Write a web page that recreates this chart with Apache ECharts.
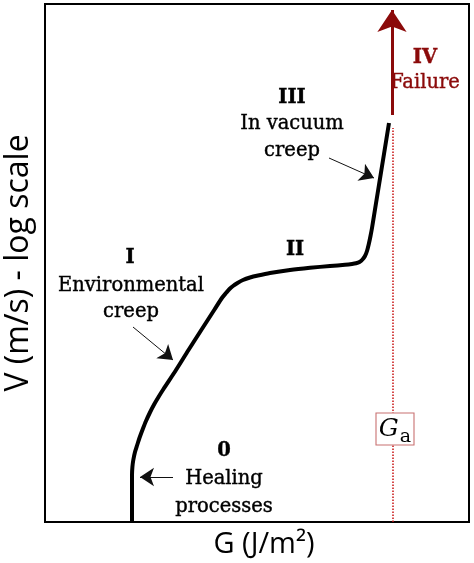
<!DOCTYPE html>
<html><head><meta charset="utf-8">
<script src="https://cdn.jsdelivr.net/npm/echarts@6/dist/echarts.min.js"></script>
<style>html,body{margin:0;padding:0;background:#fff}#c{width:474px;height:563px}</style>
</head><body><div id="c"></div>
<script>
// Curve: G (arbitrary units) vs log V (arbitrary units)
const curveG = [87,87,87.4,88.3,90,92.2,94.8,97.8,101,104.7,108.8,113.5,118.5,131,143.5,156.3,169.2,176.9,181,184.5,188,192.5,198,205,213,225,245,265,285,300,307,311,314.5,317.5,320,322,323.8,325.5,327,331,335,339,344];
const curveV = [0,47,55,62,70,77,85,93,101,109,117,125,133,152,172,192,212,224,229,233,236,239,242,244.5,246.5,249,252,254.2,256,257.2,258,258.7,260,262.5,266,271,278,286,294,318.7,343.4,368,399];
// Critical G line (Ga) and failure arrow
const gaG = 348;
const gaVrange = [0, 394];
const failArrowG = 347;
const failArrowV = [407, 512];
const gaBox = [350, 93];
// Text annotations
const labelTexts = ['IV','Failure','III','In vacuum','creep','II','I','Environmental','creep','0','Healing','processes'];
const labelG =     [380, 380, 247, 247, 247, 250, 85, 86, 86, 179, 179, 179];
const labelV =     [464, 439, 424, 398, 371, 272, 264, 236, 210, 71, 43, 15];
const labelBold =  [true,false,true,false,false,true,true,false,false,true,false,false];
const labelRed =   [true,true,false,false,false,false,false,false,false,false,false,false];
// Pointer arrows [G1,V1,G2,V2]
const pointerArrows = [
  [128, 45, 95, 45],
  [88, 195, 128, 162],
  [284, 364, 329, 344]
];

const red = '#8b0a0a';
const serif = 'DejaVu Serif';
const chart = echarts.init(document.getElementById('c'));
chart.setOption({
  animation: false,
  grid: {left: 45, right: 5, top: 4, bottom: 41, outerBoundsMode: 'none', containLabel: false,
    show: true, borderColor: '#000', borderWidth: 2, backgroundColor: 'transparent'},
  xAxis: {type: 'value', min: 0, max: 424, name: 'G (J/m²)', nameLocation: 'middle', nameGap: 8,
    nameTextStyle: {fontFamily: 'Open Sans', fontSize: 29, color: '#000', padding: [0, 0, 0, 14]},
    axisLine: {show: false}, axisTick: {show: false}, axisLabel: {show: false}, splitLine: {show: false}},
  yAxis: {type: 'value', min: 0, max: 518, name: 'V (m/s) - log scale', nameLocation: 'middle', nameGap: 10,
    nameTextStyle: {fontFamily: 'Open Sans', fontSize: 32, color: '#000'},
    axisLine: {show: false}, axisTick: {show: false}, axisLabel: {show: false}, splitLine: {show: false}},
  series: [
    {type: 'line', data: [[gaG, gaVrange[0]], [gaG, gaVrange[1]]], symbol: 'none',
     lineStyle: {color: '#c81010', width: 1.5, type: [1.5, 1.5]}, z: 1},
    {type: 'line', data: curveG.map((g, i) => [g, curveV[i]]), symbol: 'none', smooth: 0.25,
     lineStyle: {color: '#000', width: 4, join: 'round'}, z: 3},
    {type: 'lines', coordinateSystem: 'cartesian2d', symbol: ['none', 'arrow'], symbolSize: [14, 22],
     lineStyle: {color: red, width: 3, opacity: 1}, z: 4,
     data: [{coords: [[failArrowG, failArrowV[0]], [failArrowG, failArrowV[1]]]}]},
    {type: 'lines', coordinateSystem: 'cartesian2d', symbol: ['none', 'arrow'], symbolSize: [10, 14],
     lineStyle: {color: '#111', width: 1, opacity: 1}, z: 4,
     data: pointerArrows.map(a => ({coords: [[a[0], a[1]], [a[2], a[3]]]}))},
    {type: 'scatter', symbol: 'rect', symbolSize: [38, 32], z: 5,
     itemStyle: {color: '#fff', borderColor: '#c87070', borderWidth: 1, opacity: 1},
     data: [{value: gaBox}],
     label: {show: true, position: 'inside', formatter: '{g|G}{a|a}',
       rich: {g: {fontFamily: serif, fontStyle: 'italic', fontSize: 25, color: '#000'},
              a: {fontFamily: serif, fontSize: 19, color: '#000', padding: [16, 0, 0, 1]}}}},
    {type: 'scatter', symbolSize: 0, z: 6, itemStyle: {opacity: 1},
     data: labelTexts.map((t, i) => ({value: [labelG[i], labelV[i]], name: t,
       label: {fontWeight: labelBold[i] ? 'bold' : 'normal', color: labelRed[i] ? red : '#000',
               textBorderColor: labelRed[i] ? red : '#000'}})),
     label: {show: true, position: 'inside', formatter: p => p.name, opacity: 1,
       fontFamily: serif, fontSize: 19.5, textBorderWidth: 0.4}}
  ]
});
</script></body></html>
